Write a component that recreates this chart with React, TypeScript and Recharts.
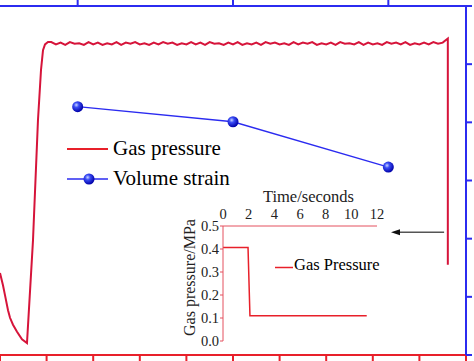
import React from "react";
import {
  ComposedChart,
  LineChart,
  Line,
  XAxis,
  YAxis,
  Legend,
  ReferenceLine,
} from "recharts";

const FONT = '"Liberation Serif", "Times New Roman", serif';

// main gas pressure curve (time in bottom-axis ticks, pressure in left-axis units)
const riseTime = [0, 0.064, 0.107, 0.172, 0.215, 0.279, 0.365, 0.472, 0.579, 0.708, 0.815, 0.88, 0.923, 0.966, 1.03];
const riseValue = [1.41, 1.2, 1.03, 0.77, 0.64, 0.52, 0.4, 0.27, 0.206, 1.97, 4.04, 4.9, 5.24, 5.34, 5.38];
const plateauStart = 1.1;
const plateauStep = 0.1;
const plateauValue = [
  5.38, 5.34, 5.37, 5.33, 5.38, 5.35, 5.36, 5.33, 5.38, 5.34,
  5.37, 5.33, 5.36, 5.34, 5.38, 5.33, 5.37, 5.35, 5.38, 5.34,
  5.36, 5.33, 5.37, 5.34, 5.38, 5.35, 5.37, 5.33, 5.36, 5.34,
  5.38, 5.34, 5.37, 5.33, 5.38, 5.35, 5.36, 5.33, 5.37, 5.34,
  5.38, 5.33, 5.36, 5.34, 5.37, 5.33, 5.38, 5.35, 5.37, 5.34,
  5.36, 5.33, 5.38, 5.34, 5.37, 5.35, 5.38, 5.33, 5.36, 5.34,
  5.37, 5.33, 5.38, 5.35, 5.36, 5.34, 5.38, 5.33, 5.37, 5.34,
  5.36, 5.33, 5.38, 5.35, 5.37, 5.34, 5.38, 5.33, 5.36, 5.34,
  5.37, 5.34, 5.38, 5.35, 5.37,
];
const releaseTime = [9.61, 9.61];
const releaseValue = [5.44, 1.55];

// volume strain, one point per stage (top axis)
const stageX = [0.5, 1.5, 2.5];
const volumeStrain = [4.27, 4.01, 3.23];

const timeTicks = [0, 1, 2, 3, 4, 5, 6, 7, 8, 9, 10];
const strainTicks = [0, 1, 2, 3, 4, 5, 6];

// inset
const insetTime = [0, 1.95, 2.1, 11.2];
const insetPressure = [0.407, 0.407, 0.11, 0.11];
const insetTimeTicks = [0, 2, 4, 6, 8, 10, 12];
const insetPressureTicks = [0, 0.1, 0.2, 0.3, 0.4, 0.5];

const arrowLevel = 2.11;
const arrowFrom = 9.53;
const arrowTo = 8.39;

const pressureData = [
  ...riseTime.map((t, i) => ({ t, p: riseValue[i] })),
  ...plateauValue.map((p, i) => ({ t: plateauStart + i * plateauStep, p })),
  ...releaseTime.map((t, i) => ({ t, p: releaseValue[i] })),
];
const strainData = stageX.map((s, i) => ({ s, v: volumeStrain[i] }));
const insetData = insetTime.map((t, i) => ({ t, p: insetPressure[i] }));

const RED = "#e8202a";
const CRIMSON = "#d6143a";
const BLUE = "#2b2bf0";
const INSET_AXIS = "#e4505e";

const Ball = ({ cx, cy, r = 5.5 }: { cx: number; cy: number; r?: number }) => (
  <g>
    <circle cx={cx} cy={cy} r={r} fill="url(#ballGrad)" />
  </g>
);

const MainLegend = () => (
  <div style={{ fontFamily: FONT, fontSize: 21, lineHeight: "30px", color: "#000" }}>
    <div style={{ display: "flex", height: 30 }}>
      <svg width={41} height={30}>
        <line x1={0} x2={41} y1={16} y2={16} stroke={RED} strokeWidth={2} />
      </svg>
      <span style={{ marginLeft: 5, whiteSpace: "nowrap" }}>Gas pressure</span>
    </div>
    <div style={{ display: "flex", height: 30 }}>
      <svg width={41} height={30}>
        <line x1={0} x2={41} y1={16} y2={16} stroke={BLUE} strokeWidth={1.3} />
        <Ball cx={22} cy={16} />
      </svg>
      <span style={{ marginLeft: 5, whiteSpace: "nowrap" }}>Volume strain</span>
    </div>
  </div>
);

const InsetLegend = () => (
  <div style={{ fontFamily: FONT, fontSize: 16.5, lineHeight: "20px", color: "#000", display: "flex" }}>
    <svg width={18} height={20}>
      <line x1={0} x2={18} y1={12.5} y2={12.5} stroke={RED} strokeWidth={1.5} />
    </svg>
    <span style={{ marginLeft: 1, whiteSpace: "nowrap" }}>Gas Pressure</span>
  </div>
);

const Arrow = (props: any) => {
  const { x1, y1, x2, y2 } = props;
  return (
    <g>
      <line x1={x1} y1={y1} x2={x2 + 6} y2={y2} stroke="#555" strokeWidth={1.3} />
      <polygon points={`${x2},${y2} ${x2 + 9},${y2 - 3} ${x2 + 9},${y2 + 3}`} fill="#111" />
    </g>
  );
};

const blank = () => "";

export default function App() {
  return (
    <div style={{ position: "absolute", left: 0, top: 0, width: 474, height: 361, background: "#fff", fontFamily: FONT }}>
      <ComposedChart width={474} height={361} margin={{ top: 0, right: 0, bottom: 0, left: 0 }}>
        <defs>
          <radialGradient id="ballGrad" cx="38%" cy="35%" r="65%">
            <stop offset="0%" stopColor="#c8d4ff" />
            <stop offset="35%" stopColor="#3a4cf5" />
            <stop offset="100%" stopColor="#0000a8" />
          </radialGradient>
        </defs>
        <XAxis
          xAxisId="time"
          type="number"
          dataKey="t"
          domain={[0, 10]}
          ticks={timeTicks}
          orientation="bottom"
          height={6}
          tickSize={6}
          stroke={RED}
          axisLine={{ strokeWidth: 2 }}
          tickLine={{ strokeWidth: 2 }}
          tickFormatter={blank}
        />
        <XAxis
          xAxisId="stage"
          type="number"
          dataKey="s"
          domain={[0, 3]}
          ticks={stageX}
          orientation="top"
          height={6}
          tickSize={6}
          stroke={BLUE}
          axisLine={{ strokeWidth: 2 }}
          tickLine={{ strokeWidth: 2 }}
          tickFormatter={blank}
        />
        <YAxis yAxisId="p" hide type="number" domain={[0, 6]} />
        <YAxis
          yAxisId="v"
          orientation="right"
          type="number"
          domain={[0, 6]}
          ticks={strainTicks}
          width={8}
          tickSize={6}
          stroke={BLUE}
          axisLine={{ strokeWidth: 2 }}
          tickLine={{ strokeWidth: 2 }}
          tickFormatter={blank}
        />
        <Line
          data={pressureData}
          xAxisId="time"
          yAxisId="p"
          dataKey="p"
          type="linear"
          stroke={CRIMSON}
          strokeWidth={2}
          dot={false}
          isAnimationActive={false}
        />
        <Line
          data={strainData}
          xAxisId="stage"
          yAxisId="v"
          dataKey="v"
          type="linear"
          stroke={BLUE}
          strokeWidth={1.3}
          dot={(props: any) => <Ball key={props.index} cx={props.cx} cy={props.cy} />}
          isAnimationActive={false}
        />
        <ReferenceLine
          xAxisId="time"
          yAxisId="p"
          segment={[
            { x: arrowFrom, y: arrowLevel },
            { x: arrowTo, y: arrowLevel },
          ]}
          shape={Arrow}
        />
        <Legend
          layout="vertical"
          align="center"
          verticalAlign="middle"
          content={MainLegend}
          wrapperStyle={{ left: 67, top: 133, width: 200, height: 60 }}
        />
      </ComposedChart>

      <div style={{ position: "absolute", left: 170, top: 180 }}>
        <LineChart width={215} height={175} data={insetData} margin={{ top: 0, right: 8, bottom: 14, left: 0 }}>
          <XAxis
            type="number"
            dataKey="t"
            orientation="top"
            domain={[0, 12]}
            ticks={insetTimeTicks}
            height={46}
            tickSize={3}
            tickMargin={4}
            tickLine={false}
            stroke={INSET_AXIS}
            tick={{ fill: "#222", fontSize: 14.5, fontFamily: FONT }}
            label={(props: any) => {
              const vb = props.viewBox;
              return (
                <text
                  x={vb.x + vb.width / 2 + 8.5}
                  y={vb.y + vb.height - 24}
                  textAnchor="middle"
                  fill="#222"
                  fontSize={16.5}
                  fontFamily={FONT}
                >
                  Time/seconds
                </text>
              );
            }}
          />
          <YAxis
            type="number"
            domain={[0, 0.5]}
            ticks={insetPressureTicks}
            width={53}
            tickSize={3}
            tickMargin={1}
            stroke={INSET_AXIS}
            tick={{ fill: "#222", fontSize: 14.5, fontFamily: FONT }}
            tickFormatter={(v: number) => v.toFixed(1)}
            label={(props: any) => {
              const vb = props.viewBox;
              const cx = vb.x + 25;
              const cy = vb.y + vb.height / 2 - 6;
              return (
                <text
                  x={cx}
                  y={cy}
                  transform={`rotate(-90, ${cx}, ${cy})`}
                  textAnchor="middle"
                  fill="#222"
                  fontSize={16}
                  fontFamily={FONT}
                >
                  Gas pressure/MPa
                </text>
              );
            }}
          />
          <Line
            dataKey="p"
            type="linear"
            stroke={RED}
            strokeWidth={1.5}
            dot={false}
            isAnimationActive={false}
          />
          <Legend
            layout="vertical"
            align="center"
            verticalAlign="middle"
            content={InsetLegend}
            wrapperStyle={{ left: 105, top: 75, width: 110, height: 20 }}
          />
        </LineChart>
      </div>
    </div>
  );
}
